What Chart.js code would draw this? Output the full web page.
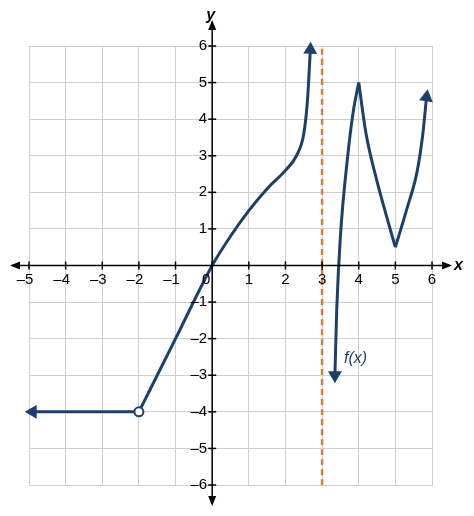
<!DOCTYPE html>
<html><head><meta charset="utf-8">
<script src="https://cdn.jsdelivr.net/npm/chart.js@4"></script>
<style>html,body{margin:0;background:#fff}#wrap{width:474px;height:516px}</style>
</head><body><div id="wrap"><canvas id="chart"></canvas></div>
<script>
const navy = '#1d3f6b';
const orange = '#e07b39';

// pieces of f(x)
const leftRay = [{x: -4.9, y: -4}, {x: -2, y: -4}];
const middle = [{x: -2, y: -4}, {x: -1, y: -2}, {x: 0, y: 0}, {x: 0.5, y: 0.8}, {x: 1, y: 1.5},
  {x: 1.5, y: 2.1}, {x: 2, y: 2.6}, {x: 2.3, y: 3.0}, {x: 2.5, y: 3.6}, {x: 2.6, y: 4.5}, {x: 2.68, y: 5.9}];
const rightA = [{x: 3.35, y: -3.0}, {x: 3.4, y: -1.2}, {x: 3.5, y: 0.8}, {x: 3.7, y: 3.0}, {x: 3.85, y: 4.2}, {x: 4, y: 5}];
const rightB = [{x: 4, y: 5}, {x: 4.2, y: 3.6}, {x: 4.5, y: 2.3}, {x: 4.8, y: 1.2}, {x: 5, y: 0.5}];
const rightC = [{x: 5, y: 0.5}, {x: 5.3, y: 1.5}, {x: 5.6, y: 2.6}, {x: 5.75, y: 3.6}, {x: 5.85, y: 4.6}];
const asymptote = [{x: 3, y: -6}, {x: 3, y: 6}];
const xTicks = [-5, -4, -3, -2, -1, 0, 1, 2, 3, 4, 5, 6];
const yTicks = [-6, -5, -4, -3, -2, -1, 1, 2, 3, 4, 5, 6];

function line(data, extra) {
  return Object.assign({data, borderColor: navy, borderWidth: 3, pointRadius: 0,
    showLine: true, tension: 0.35, clip: false, cubicInterpolationMode: 'monotone'}, extra);
}
function arrowEnds(n, end, rot) {
  const r = Array(n).fill(0), s = Array(n).fill(0);
  r[end] = 5; s[end] = rot;
  return {pointRadius: r, pointRotation: s, pointStyle: 'triangle', pointBackgroundColor: navy, pointBorderColor: navy};
}

const axesPlugin = {
  id: 'axes',
  afterDatasetsDraw(chart) {
    const {ctx, scales: {x, y}} = chart;
    const x0 = x.getPixelForValue(0), y0 = y.getPixelForValue(0);
    ctx.save();
    ctx.strokeStyle = '#000'; ctx.fillStyle = '#000'; ctx.lineWidth = 1.5;
    ctx.beginPath();
    ctx.moveTo(12, y0); ctx.lineTo(450, y0);
    ctx.moveTo(x0, 22); ctx.lineTo(x0, 504);
    ctx.stroke();
    const tri = (pts) => { ctx.beginPath(); ctx.moveTo(...pts[0]); ctx.lineTo(...pts[1]); ctx.lineTo(...pts[2]); ctx.fill(); };
    tri([[10, y0], [20, y0 - 4], [20, y0 + 4]]);
    tri([[452, y0], [442, y0 - 4], [442, y0 + 4]]);
    tri([[x0, 20], [x0 - 4, 30], [x0 + 4, 30]]);
    tri([[x0, 506], [x0 - 4, 496], [x0 + 4, 496]]);
    ctx.font = 'bold italic 16px "Liberation Sans"';
    ctx.textAlign = 'left'; ctx.textBaseline = 'middle';
    ctx.fillText('x', 454, y0);
    ctx.fillText('y', x0 - 6, 16);
    ctx.font = '15px "Liberation Sans"';
    ctx.textAlign = 'center'; ctx.textBaseline = 'top';
    xTicks.forEach(v => {
      const px = x.getPixelForValue(v);
      ctx.beginPath(); ctx.moveTo(px, y0 - 4); ctx.lineTo(px, y0 + 4); ctx.stroke();
      ctx.fillText(v < 0 ? '–' + (-v) : String(v), v === 0 ? px - 6 : px - (v < 0 ? 4 : 0), y0 + 7);
    });
    ctx.textAlign = 'right'; ctx.textBaseline = 'middle';
    yTicks.forEach(v => {
      const py = y.getPixelForValue(v);
      ctx.beginPath(); ctx.moveTo(x0 - 4, py); ctx.lineTo(x0 + 4, py); ctx.stroke();
      ctx.fillText(v < 0 ? '–' + (-v) : String(v), x0 - 5, py);
    });
    // open circle at (-2,-4)
    ctx.beginPath();
    ctx.arc(x.getPixelForValue(-2), y.getPixelForValue(-4), 4.5, 0, Math.PI * 2);
    ctx.fillStyle = '#fff'; ctx.fill();
    ctx.strokeStyle = navy; ctx.lineWidth = 2; ctx.stroke();
    ctx.fillStyle = navy;
    ctx.font = 'italic 16px "Liberation Sans"';
    ctx.textAlign = 'left';
    ctx.fillText('f(x)', x.getPixelForValue(3.6), y.getPixelForValue(-2.55));
    ctx.restore();
  }
};

new Chart(document.getElementById('chart'), {
  type: 'scatter',
  data: {
    datasets: [
      line(asymptote, {borderColor: orange, borderWidth: 2.5, borderDash: [6, 4], tension: 0}),
      line(leftRay, Object.assign({tension: 0}, arrowEnds(2, 0, -90))),
      line(middle, arrowEnds(middle.length, middle.length - 1, 2)),
      line(rightA, arrowEnds(rightA.length, 0, 180)),
      line(rightB),
      line(rightC, arrowEnds(rightC.length, rightC.length - 1, 8))
    ]
  },
  options: {
    responsive: true,
    maintainAspectRatio: false,
    animation: false,
    layout: {padding: {left: 29, right: 42, top: 46, bottom: 31}},
    plugins: {legend: {display: false}, tooltip: {enabled: false}},
    scales: {
      x: {type: 'linear', min: -5, max: 6, ticks: {display: false, stepSize: 1},
        grid: {color: '#cfcfcf', drawTicks: false}, border: {display: true, color: '#cfcfcf'}},
      y: {type: 'linear', min: -6, max: 6, ticks: {display: false, stepSize: 1},
        grid: {color: '#cfcfcf', drawTicks: false}, border: {display: true, color: '#cfcfcf'}}
    }
  },
  plugins: [axesPlugin]
});
</script>
</body></html>
